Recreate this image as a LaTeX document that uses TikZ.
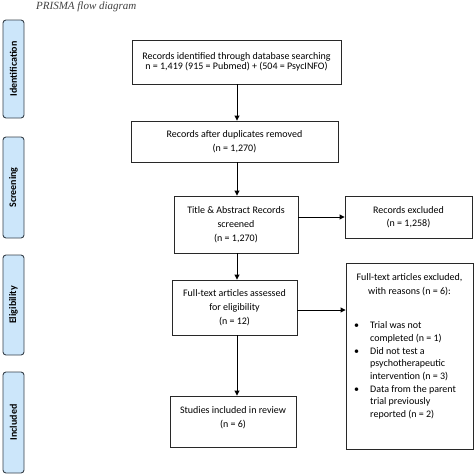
\documentclass[tikz,border=0pt]{standalone}
\usepackage{fontspec}
\setmainfont{Carlito}
\newfontfamily\titlefont{Liberation Serif}
\usetikzlibrary{arrows.meta}
\definecolor{sidefill}{RGB}{204,230,250}
\definecolor{sidedraw}{RGB}{55,65,75}
\definecolor{boxdraw}{RGB}{40,40,40}
\begin{document}
\begin{tikzpicture}[x=1pt,y=-1pt,
  box/.style={draw=boxdraw, line width=0.9pt, fill=white, inner sep=0pt, align=center,
              font=\fontsize{10}{14}\selectfont},
  side/.style={draw=sidedraw, line width=0.9pt, fill=sidefill, rounded corners=3pt,
               inner sep=0pt, rotate=90, font=\fontsize{10}{12}\selectfont\bfseries},
  arr/.style={line width=0.9pt, draw=black, -{Triangle[length=5pt,width=5pt]}},
  txt/.style={inner sep=0pt, anchor=base, font=\fontsize{10}{12}\selectfont},
  ltxt/.style={inner sep=0pt, anchor=base west, font=\fontsize{10}{12}\selectfont}]
\useasboundingbox (0,0) rectangle (474,474);

\node[inner sep=0pt, anchor=base west, text=black!75, font=\titlefont\fontsize{11}{13}\selectfont\itshape] (title) at (36,9.5) {PRISMA flow diagram};

% phase labels
\node[side, minimum width=98pt, minimum height=21pt] (s1) at (13.5,69) {Identification};
\node[side, minimum width=101pt, minimum height=21pt] (s2) at (13.5,187.5) {Screening};
\node[side, minimum width=100pt, minimum height=21pt] (s3) at (13.5,305) {Eligibility};
\node[side, minimum width=101pt, minimum height=21pt] (s4) at (13.5,422.5) {Included};

% boxes
\node[box, minimum width=209pt, minimum height=44pt, font=\fontsize{10}{10}\selectfont] (b1) at (236.5,62)
  {Records identified through database searching\\n = 1,419 (915 = Pubmed) + (504 = PsycINFO)};
\node[box, minimum width=207pt, minimum height=41pt] (b2) at (234.5,141.5)
  {Records after duplicates removed\\(n = 1,270)};
\node[box, minimum width=124pt, minimum height=57pt] (b3) at (236,224.5)
  {Title \& Abstract Records\\screened\\(n = 1,270)};
\node[box, minimum width=127pt, minimum height=42pt, font=\fontsize{10}{12.5}\selectfont] (ex1) at (408.5,217)
  {Records excluded\\(n = 1,258)};
\node[box, minimum width=125pt, minimum height=55pt] (b4) at (234.5,307.5)
  {Full-text articles assessed\\for eligibility\\(n = 12)};
\node[box, minimum width=127pt, minimum height=186pt] (ex2) at (409.5,356) {};
\node[box, minimum width=126pt, minimum height=51pt] (b5) at (233,421.5)
  {Studies included in review\\(n = 6)\\[-5pt]\mbox{}};

% text of the exclusion box
\node[txt] (h1) at (409.5,280.5) {Full-text articles excluded,};
\node[txt] (h2) at (409.5,294) {with reasons (n = 6):};
\node[ltxt] (p1) at (354,328) {\textbullet};
\node[ltxt] (l1) at (370,328) {Trial was not};
\node[ltxt] (l2) at (370,341) {completed (n = 1)};
\node[ltxt] (p2) at (354,354) {\textbullet};
\node[ltxt] (l3) at (370,354) {Did not test a};
\node[ltxt] (l4) at (370,366.5) {psychotherapeutic};
\node[ltxt] (l5) at (370,379) {intervention (n = 3)};
\node[ltxt] (p3) at (354,392) {\textbullet};
\node[ltxt] (l6) at (370,392) {Data from the parent};
\node[ltxt] (l7) at (370,404.5) {trial previously};
\node[ltxt] (l8) at (370,417) {reported (n = 2)};

% connectors
\coordinate (ax) at (237,0);
\draw[arr] (b1.south -| ax) -- (b2.north -| ax);
\draw[arr] (b2.south -| ax) -- (b3.north -| ax);
\draw[arr] (b3.south -| ax) -- (b4.north -| ax);
\draw[arr] (b4.south -| ax) -- (b5.north -| ax);
\draw[arr] (b3.east |- ex1.west) -- (ex1.west);
\coordinate (cy) at (0,310);
\draw[arr] (b4.east |- cy) -- (ex2.west |- cy);
\end{tikzpicture}
\end{document}
